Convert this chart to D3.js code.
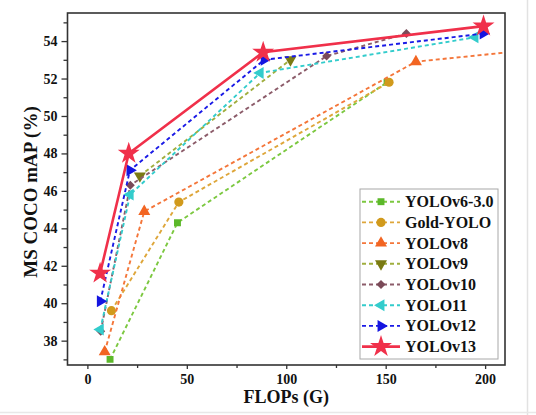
<!DOCTYPE html>
<html>
<head>
<meta charset="utf-8">
<script src="https://cdn.jsdelivr.net/npm/d3@7"></script>
<style>
  body { margin: 0; background: #fff; }
  svg text { font-family: "Liberation Serif", "Times New Roman", serif; font-weight: bold; fill: #111; }
</style>
</head>
<body>
<div id="wrapper"></div>
<script>
// series names, in legend order
const names = ["YOLOv6-3.0", "Gold-YOLO", "YOLOv8", "YOLOv9", "YOLOv10", "YOLO11", "YOLOv12", "YOLOv13"];

// FLOPs (G) and mAP (%) per series
const yolov6Flops = [11.4, 45.3, 150.7];
const yolov6Map   = [37.0, 44.3, 51.8];
const goldFlops   = [12.1, 46.0, 151.7];
const goldMap     = [39.6, 45.4, 51.8];
const yolov8Flops = [8.7, 28.6, 165.2, 257.8];
const yolov8Map   = [37.4, 44.9, 52.9, 53.9];
const yolov9Flops = [26.4, 102.1];
const yolov9Map   = [46.8, 53.0];
const yolov10Flops = [6.7, 21.6, 120.3, 160.4];
const yolov10Map   = [38.5, 46.3, 53.2, 54.4];
const yolo11Flops = [6.5, 21.5, 86.9, 194.9];
const yolo11Map   = [38.6, 45.8, 52.3, 54.2];
const yolov12Flops = [6.5, 21.4, 88.9, 199.0];
const yolov12Map   = [40.1, 47.1, 53.0, 54.4];
const yolov13Flops = [6.4, 20.8, 88.4, 199.2];
const yolov13Map   = [41.6, 48.0, 53.4, 54.8];

const xTicks = [0, 50, 100, 150, 200];
const yTicks = [38, 40, 42, 44, 46, 48, 50, 52, 54];

const flops = [yolov6Flops, goldFlops, yolov8Flops, yolov9Flops, yolov10Flops, yolo11Flops, yolov12Flops, yolov13Flops];
const maps  = [yolov6Map, goldMap, yolov8Map, yolov9Map, yolov10Map, yolo11Map, yolov12Map, yolov13Map];

const styles = [
  {line: "#7cc840", fill: "#5cb82a", sym: d3.symbolSquare, size: 48, rot: 0},
  {line: "#dea63a", fill: "#d19a1c", sym: d3.symbolCircle, size: 66, rot: 0},
  {line: "#f4763a", fill: "#f26522", sym: d3.symbolTriangle, size: 62, rot: 0},
  {line: "#a0ae3e", fill: "#7a7a12", sym: d3.symbolTriangle, size: 62, rot: 180},
  {line: "#8c5c6a", fill: "#7a4a58", sym: d3.symbolSquare, size: 40, rot: 45},
  {line: "#33cccc", fill: "#33cccc", sym: d3.symbolTriangle, size: 62, rot: -90},
  {line: "#1a1ae6", fill: "#1515e0", sym: d3.symbolTriangle, size: 62, rot: 90},
  {line: "#f0304a", fill: "#f0304a", sym: d3.symbolStar, size: 150, rot: 0},
];

const series = names.map((name, i) => ({
  name, style: styles[i],
  values: flops[i].map((f, j) => ({x: f, y: maps[i][j]}))
}));

let dimensions = {
  width: 536,
  height: 415,
  margin: {top: 13, right: 31, bottom: 50, left: 67.5},
}
dimensions.boundedWidth = dimensions.width - dimensions.margin.left - dimensions.margin.right;
dimensions.boundedHeight = dimensions.height - dimensions.margin.top - dimensions.margin.bottom;

const wrapper = d3.select("#wrapper").append("svg")
  .attr("width", dimensions.width)
  .attr("height", dimensions.height);

// faint screenshot edges
wrapper.append("line").attr("x1", 527.5).attr("x2", 527.5).attr("y1", 0).attr("y2", 415)
  .attr("stroke", "#e2e2e2").attr("stroke-width", 1.5);
wrapper.append("line").attr("x1", 0).attr("x2", 536).attr("y1", 412.5).attr("y2", 412.5)
  .attr("stroke", "#e8e8e8").attr("stroke-width", 1.5);

const bounds = wrapper.append("g")
  .attr("transform", `translate(${dimensions.margin.left},${dimensions.margin.top})`);

const xScale = d3.scaleLinear().domain([-10, 210]).range([0, dimensions.boundedWidth]);
const yScale = d3.scaleLinear().domain([36.7, 55.5]).range([dimensions.boundedHeight, 0]);

bounds.append("clipPath").attr("id", "clip")
  .append("rect").attr("width", dimensions.boundedWidth).attr("height", dimensions.boundedHeight);

// axes: major ticks with labels, minor ticks without
const xAxis = bounds.append("g").attr("transform", `translate(0,${dimensions.boundedHeight})`)
  .call(d3.axisBottom(xScale).tickValues(xTicks).tickSize(4).tickPadding(5).tickFormat(d3.format("d")));
bounds.append("g").attr("transform", `translate(0,${dimensions.boundedHeight})`)
  .call(d3.axisBottom(xScale).tickValues([25, 75, 125, 175]).tickSize(3).tickFormat(""));
const yAxis = bounds.append("g")
  .call(d3.axisLeft(yScale).tickValues(yTicks).tickSize(6).tickPadding(4).tickFormat(d3.format("d")));
bounds.append("g")
  .call(d3.axisLeft(yScale).tickValues([37, 39, 41, 43, 45, 47, 49, 51, 53, 55]).tickSize(4).tickFormat(""));

bounds.selectAll(".domain").remove();
bounds.selectAll(".tick line").attr("stroke", "#333").attr("stroke-width", 1.3);
bounds.selectAll(".tick text").style("font-size", "14px").attr("fill", "#111");

bounds.append("rect")
  .attr("width", dimensions.boundedWidth).attr("height", dimensions.boundedHeight)
  .attr("fill", "none").attr("stroke", "#333").attr("stroke-width", 1.6);

const lineGenerator = d3.line().x(d => xScale(d.x)).y(d => yScale(d.y));
const symbolPath = s => d3.symbol().type(s.sym).size(s.size)();

const plot = bounds.append("g").attr("clip-path", "url(#clip)");
series.forEach((s, i) => {
  const last = i === series.length - 1;
  plot.append("path").datum(s.values)
    .attr("d", lineGenerator)
    .attr("fill", "none")
    .attr("stroke", s.style.line)
    .attr("stroke-width", last ? 2.6 : 1.9)
    .attr("stroke-dasharray", last ? null : "4,3");
  plot.selectAll(null).data(s.values).join("path")
    .attr("d", symbolPath(s.style))
    .attr("fill", s.style.fill)
    .attr("transform", d => `translate(${xScale(d.x)},${yScale(d.y)}) rotate(${s.style.rot})`);
});

// axis titles
wrapper.append("text")
  .attr("x", dimensions.margin.left + xScale(100)).attr("y", 403)
  .attr("text-anchor", "middle").style("font-size", "18px")
  .text("FLOPs (G)");
wrapper.append("text")
  .attr("transform", "translate(37,192) rotate(-90)")
  .attr("text-anchor", "middle").style("font-size", "19px")
  .text("MS COCO mAP (%)");

// legend
const legend = wrapper.append("g").attr("transform", "translate(360,189)");
legend.append("rect").attr("width", 138).attr("height", 170)
  .attr("fill", "#fff").attr("stroke", "#a8a8a8").attr("stroke-width", 1);
series.forEach((s, i) => {
  const last = i === series.length - 1;
  const row = legend.append("g").attr("transform", `translate(0,${12.7 + i * 20.7})`);
  row.append("line").attr("x1", 2).attr("x2", 40)
    .attr("stroke", s.style.line)
    .attr("stroke-width", last ? 2.6 : 1.9)
    .attr("stroke-dasharray", last ? null : "4,3");
  row.append("path").attr("d", symbolPath(s.style))
    .attr("fill", s.style.fill)
    .attr("transform", `translate(21,0) rotate(${s.style.rot})`);
  row.append("text").attr("x", 45).attr("y", 5.5)
    .style("font-size", "16px")
    .text(s.name);
});
</script>
</body>
</html>
